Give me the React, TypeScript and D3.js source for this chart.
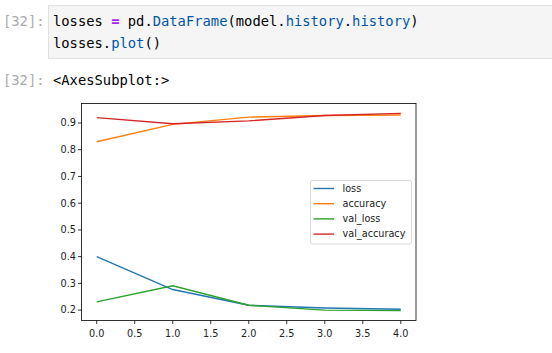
import React from "react";
import * as d3 from "d3";

const epochs = [0, 1, 2, 3, 4];
const loss = [0.4, 0.277, 0.218, 0.208, 0.203];
const accuracy = [0.83, 0.895, 0.922, 0.928, 0.93];
const valLoss = [0.231, 0.291, 0.218, 0.2, 0.198];
const valAccuracy = [0.92, 0.897, 0.908, 0.928, 0.936];
const seriesNames = ["loss", "accuracy", "val_loss", "val_accuracy"];
const seriesColors = ["#1f77b4", "#ff7f0e", "#2ca02c", "#d62728"];
const xTicks = [0, 0.5, 1, 1.5, 2, 2.5, 3, 3.5, 4];
const yTicks = [0.2, 0.3, 0.4, 0.5, 0.6, 0.7, 0.8, 0.9];

const W = 552, H = 353;
const ax = { left: 81.5, right: 416, top: 103.5, bottom: 320.5 };

export default function App() {
  const all = [...loss, ...accuracy, ...valLoss, ...valAccuracy];
  const ymin = d3.min(all)!, ymax = d3.max(all)!;
  const pad = (ymax - ymin) * 0.05;
  const x = d3.scaleLinear().domain([-0.2, 4.2]).range([ax.left, ax.right]);
  const y = d3.scaleLinear().domain([ymin - pad, ymax + pad]).range([ax.bottom, ax.top]);
  const line = d3.line<[number, number]>().x(d => x(d[0])).y(d => y(d[1]));
  const data = [loss, accuracy, valLoss, valAccuracy];
  const mono = "'DejaVu Sans Mono', 'Liberation Mono', monospace";
  const sans = "'DejaVu Sans', sans-serif";
  const blue = "#0055aa";
  const fs = 9.7;
  return (
    <svg width={W} height={H} style={{ position: "absolute", left: 0, top: 0, background: "#fff" }}>
      {/* input cell */}
      <text x={3} y={26} fontFamily={mono} fontSize={13.8} fill="#aaaaaa">[32]:</text>
      <rect x={48.5} y={5.5} width={520} height={53} fill="#f5f5f5" stroke="#e0e0e0" />
      <text x={53} y={26} fontFamily={mono} fontSize={13.8} fill="#000">
        losses <tspan fill="#aa22ff" fontWeight="bold">=</tspan> pd.<tspan fill={blue}>DataFrame</tspan>(model.<tspan fill={blue}>history</tspan>.<tspan fill={blue}>history</tspan>)
      </text>
      <text x={53} y={48} fontFamily={mono} fontSize={13.8} fill="#000">
        losses.<tspan fill={blue}>plot</tspan>()
      </text>
      {/* output */}
      <text x={3} y={85} fontFamily={mono} fontSize={13.8} fill="#aaaaaa">[32]:</text>
      <text x={53} y={85} fontFamily={mono} fontSize={13.8} fill="#000">&lt;AxesSubplot:&gt;</text>
      {/* axes */}
      <g>
        {data.map((s, i) => (
          <path key={i} d={line(epochs.map((e, j) => [e, s[j]] as [number, number]))!} fill="none" stroke={seriesColors[i]} strokeWidth={1.4} />
        ))}
        <rect x={ax.left} y={ax.top} width={ax.right - ax.left} height={ax.bottom - ax.top} fill="none" stroke="#000" strokeWidth={0.8} />
        {yTicks.map(t => (
          <g key={t}>
            <line x1={ax.left - 3.5} x2={ax.left} y1={y(t)} y2={y(t)} stroke="#000" strokeWidth={0.8} />
            <text x={ax.left - 5.5} y={y(t)} dy="0.35em" textAnchor="end" fontFamily={sans} fontSize={fs} fill="#222">{t.toFixed(1)}</text>
          </g>
        ))}
        {xTicks.map(t => (
          <g key={t}>
            <line x1={x(t)} x2={x(t)} y1={ax.bottom} y2={ax.bottom + 3.5} stroke="#000" strokeWidth={0.8} />
            <text x={x(t)} y={ax.bottom + 16} textAnchor="middle" fontFamily={sans} fontSize={fs} fill="#222">{t.toFixed(1)}</text>
          </g>
        ))}
        {/* legend */}
        <rect x={310.5} y={180.5} width={101} height={63.5} rx={2} fill="#fff" fillOpacity={0.8} stroke="#d0d0d0" strokeWidth={0.8} />
        {seriesNames.map((n, i) => {
          const ly = 188.5 + i * 15.2;
          return (
            <g key={n}>
              <line x1={313.5} x2={334} y1={ly} y2={ly} stroke={seriesColors[i]} strokeWidth={1.4} />
              <text x={342.5} y={ly} dy="0.35em" fontFamily={sans} fontSize={fs} fill="#222">{n}</text>
            </g>
          );
        })}
      </g>
    </svg>
  );
}
